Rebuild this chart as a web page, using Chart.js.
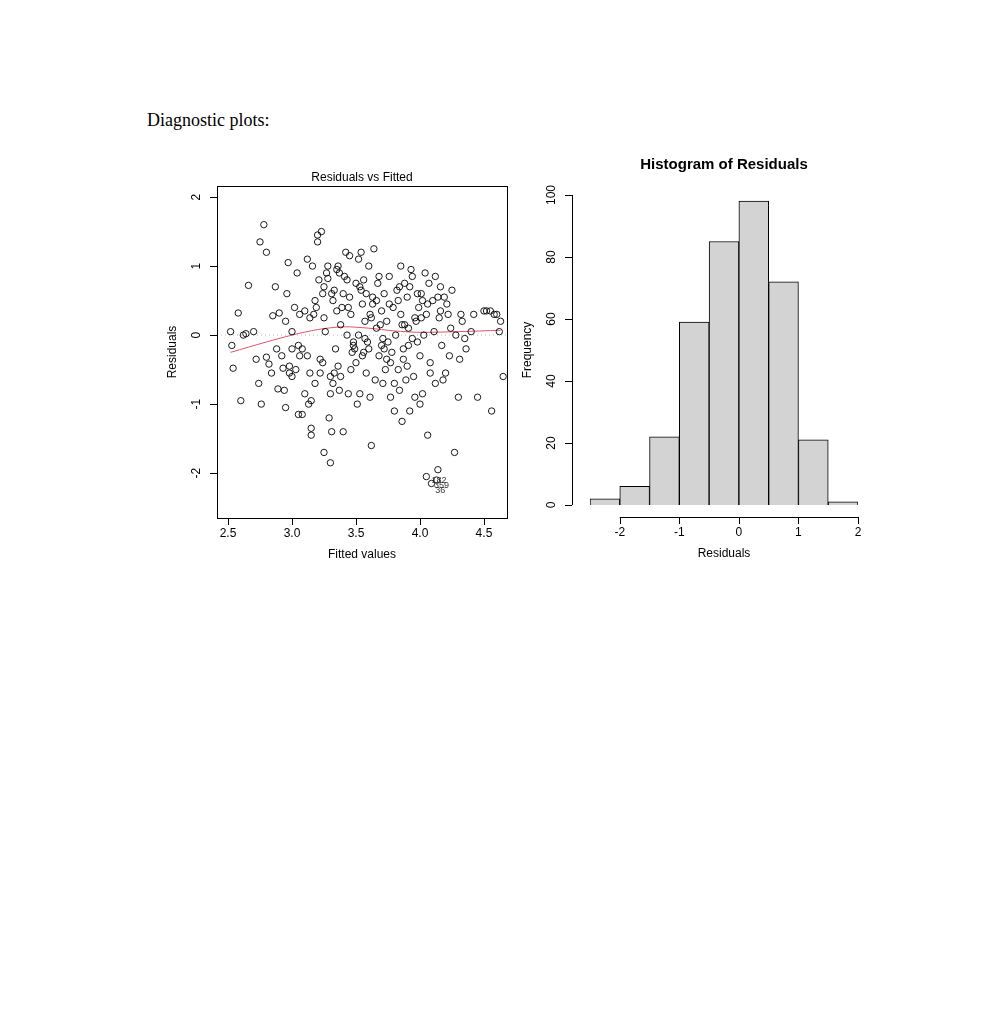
<!DOCTYPE html>
<html>
<head>
<meta charset="utf-8">
<script src="https://cdn.jsdelivr.net/npm/chart.js@4/dist/chart.umd.min.js"></script>
<style>
body { margin: 0; background: #fff; }
#hdr { position: absolute; left: 147px; top: 110px; font: 18px "Liberation Serif", serif; color: #000; }
#c1 { position: absolute; left: 150px; top: 150px; }
#c2 { position: absolute; left: 510px; top: 150px; }
</style>
</head>
<body>
<div id="hdr">Diagnostic plots:</div>
<canvas id="c1" width="380" height="440"></canvas>
<canvas id="c2" width="370" height="440"></canvas>
<script>
// residuals vs fitted
var fitted = [2.52,2.53,2.54,2.58,2.6,2.62,2.64,2.66,2.7,2.72,2.74,2.75,2.76,2.78,2.8,2.8,2.82,2.84,2.85,2.87,2.88,2.89,2.9,2.92,2.93,2.94,2.95,2.95,2.96,2.97,2.98,2.98,3.0,3.0,3.0,3.02,3.03,3.04,3.05,3.05,3.06,3.08,3.08,3.1,3.1,3.12,3.12,3.13,3.14,3.15,3.15,3.15,3.16,3.17,3.18,3.18,3.2,3.2,3.21,3.22,3.22,3.23,3.24,3.25,3.25,3.25,3.26,3.27,3.28,3.29,3.3,3.3,3.3,3.31,3.32,3.32,3.33,3.34,3.35,3.35,3.36,3.37,3.38,3.38,3.4,3.4,3.42,3.43,3.44,3.45,3.45,3.46,3.47,3.48,3.5,3.5,3.51,3.52,3.52,3.53,3.54,3.55,3.55,3.56,3.57,3.58,3.58,3.6,3.6,3.61,3.62,3.62,3.63,3.64,3.65,3.66,3.67,3.68,3.7,3.7,3.71,3.72,3.73,3.74,3.75,3.76,3.77,3.78,3.79,3.8,3.8,3.81,3.82,3.83,3.84,3.85,3.85,3.86,3.87,3.88,3.89,3.9,3.9,3.91,3.92,3.93,3.94,3.95,3.96,3.97,3.98,3.99,4.0,4.0,4.01,4.02,4.03,4.04,4.05,4.05,4.06,4.07,4.08,4.09,4.1,4.11,4.12,4.13,4.14,4.15,4.16,4.17,4.18,4.2,4.21,4.22,4.24,4.25,4.27,4.28,4.3,4.31,4.32,4.33,4.35,4.36,4.4,4.42,4.45,4.5,4.52,4.55,4.56,4.58,4.6,4.62,4.63,4.65,
  3.28,3.33,3.37,3.44,3.48,3.53,3.57,3.63,3.68,3.72,3.76,3.83,3.87,3.92,3.96,4.02,4.08,4.12,4.19,4.23,3.06,3.14,3.19,3.41,3.46,3.59,3.66,3.74,3.88,3.94,
  3.31,3.36,3.43,3.49,3.54,3.61,3.69,3.77,3.84,3.91,3.98,4.06,4.14,3.24,3.39,3.56,3.71,3.86,4.01,4.16];
var resid = [0.05,-0.15,-0.48,0.32,-0.95,0.0,0.02,0.72,0.05,-0.35,-0.7,1.35,-1.0,1.6,1.2,-0.32,-0.42,-0.55,0.28,0.7,-0.2,-0.78,0.32,-0.3,-0.48,-0.8,-1.05,0.2,0.6,1.05,-0.45,-0.55,-0.6,0.05,-0.2,0.4,-0.5,0.9,-1.15,-0.15,0.3,-1.15,-0.2,0.35,-0.85,-0.3,1.1,-1.0,0.25,-1.45,-1.35,-0.95,1.0,0.3,0.5,-0.7,1.45,1.35,0.8,-0.35,-0.55,1.5,0.6,-1.7,0.25,0.7,0.05,0.9,1.0,-1.2,-1.85,-0.6,-0.85,-1.4,-0.7,0.5,-0.55,-0.2,0.95,0.35,1.0,-0.8,-0.6,0.15,-1.4,0.6,1.2,0.0,-0.85,1.15,0.55,0.3,-0.25,-0.1,0.75,-0.4,-1.0,1.1,0.0,-0.85,1.2,0.45,-0.3,0.8,-0.05,0.6,-0.55,1.0,-0.2,-0.9,-1.6,0.25,0.45,1.25,-0.65,0.1,0.75,-0.3,-0.15,0.35,-0.7,0.6,-0.5,0.2,-0.1,0.85,-0.9,-0.25,0.4,-1.1,-0.7,0.0,0.65,-0.5,-0.8,1.0,0.3,-1.25,-0.2,0.75,-0.65,0.55,-0.45,0.1,-1.1,0.95,0.85,-0.6,-0.9,0.2,-0.1,0.4,-1.0,-0.3,0.6,-0.85,0.0,0.9,-2.05,0.3,-1.45,0.75,-0.55,-2.15,0.5,0.05,-0.7,-2.1,-1.95,0.25,0.7,-0.15,-0.65,-0.55,0.45,0.3,0.1,0.65,-1.7,0.0,-0.9,-0.35,0.3,0.2,-0.05,-0.2,0.05,0.3,-0.9,0.35,0.35,0.35,-1.1,0.3,0.3,0.05,0.2,-0.6,
  0.82,0.65,0.9,0.4,-0.15,0.7,0.2,0.55,0.85,-0.2,0.45,0.5,-0.35,0.7,0.25,0.5,-0.4,0.85,0.55,-0.3,-0.3,-0.55,0.4,0.85,-0.5,-0.1,0.5,-0.35,0.15,-0.05,
  0.6,-0.45,0.8,-0.2,0.65,0.3,0.15,-0.4,0.7,-0.15,0.6,0.45,0.55,-0.4,0.4,-0.25,-0.05,0.15,0.25,0.35];
// lowess smoother
var smoothX = [2.52,2.8,3.0,3.2,3.4,3.6,3.8,4.0,4.3,4.63];
var smoothY = [-0.25,-0.1,0.0,0.08,0.12,0.1,0.06,0.04,0.05,0.07];
var xTicks1 = [2.5,3.0,3.5,4.0,4.5];
var yTicks1 = [-2,-1,0,1,2];
var outlierLabels = [[4.09,-2.1,'182'],[4.11,-2.17,'359'],[4.12,-2.25,'36']];

// histogram
var binCenters = [-2.25,-1.75,-1.25,-0.75,-0.25,0.25,0.75,1.25,1.75];
var counts = [2,6,22,59,85,98,72,21,1];
var xTicks2 = [-2,-1,0,1,2];
var yTicks2 = [0,20,40,60,80,100];

var F = '"Liberation Sans", Arial, sans-serif';

function axesPlugin(o) {
  return {
    id: 'axes',
    afterDraw: function (chart) {
      var c = chart.ctx, a = chart.chartArea, xs = chart.scales.x, ys = chart.scales.y;
      c.save();
      c.strokeStyle = '#000'; c.fillStyle = '#000'; c.lineWidth = 1;
      if (o.box) c.strokeRect(a.left + 0.5, a.top + 0.5, a.right - a.left, a.bottom - a.top);
      var xb = a.bottom + o.xoff, yl = a.left - o.yoff;
      var x0 = xs.getPixelForValue(o.xt[0]), x1 = xs.getPixelForValue(o.xt[o.xt.length - 1]);
      var y0 = ys.getPixelForValue(o.yt[0]), y1 = ys.getPixelForValue(o.yt[o.yt.length - 1]);
      c.beginPath();
      if (!o.box) { c.moveTo(x0, xb + 0.5); c.lineTo(x1, xb + 0.5); c.moveTo(yl + 0.5, y0); c.lineTo(yl + 0.5, y1); }
      o.xt.forEach(function (t) { var p = Math.round(xs.getPixelForValue(t)) + 0.5; c.moveTo(p, xb); c.lineTo(p, xb + 7); });
      o.yt.forEach(function (t) { var p = Math.round(ys.getPixelForValue(t)) + 0.5; c.moveTo(yl, p); c.lineTo(yl - 7, p); });
      c.stroke();
      c.font = '12px ' + F; c.textAlign = 'center'; c.textBaseline = 'top';
      o.xt.forEach(function (t) { c.fillText(o.xf(t), xs.getPixelForValue(t), xb + 10); });
      c.fillText(o.xlab, (a.left + a.right) / 2, xb + 31);
      o.yt.forEach(function (t) {
        c.save(); c.translate(yl - 14, ys.getPixelForValue(t)); c.rotate(-Math.PI / 2);
        c.textBaseline = 'bottom'; c.fillText(String(t), 0, 0); c.restore();
      });
      c.save(); c.translate(yl - 38, (a.top + a.bottom) / 2); c.rotate(-Math.PI / 2);
      c.textBaseline = 'bottom'; c.fillText(o.ylab, 0, 0); c.restore();
      c.font = o.tfont; c.textBaseline = 'alphabetic';
      c.fillText(o.title, (a.left + a.right) / 2, o.ty);
      if (o.extra) o.extra(chart, c);
      c.restore();
    }
  };
}

var pts = fitted.map(function (f, i) { return { x: f, y: resid[i] }; });
var smooth = smoothX.map(function (f, i) { return { x: f, y: smoothY[i] }; });

new Chart(document.getElementById('c1'), {
  type: 'scatter',
  data: {
    datasets: [
      { data: pts, pointRadius: 3.2, pointBorderColor: '#000', pointBackgroundColor: 'rgba(0,0,0,0)', pointBorderWidth: 0.9 },
      { data: [{ x: 2.414, y: 0 }, { x: 4.68, y: 0 }], showLine: true, borderColor: '#bbb', borderWidth: 1, borderDash: [1, 3], pointRadius: 0 },
      { data: smooth, showLine: true, borderColor: '#df536b', borderWidth: 1, pointRadius: 0, tension: 0.3 }
    ]
  },
  options: {
    responsive: false, animation: false,
    layout: { padding: { left: 67, top: 36, right: 23, bottom: 72 } },
    plugins: { legend: { display: false }, tooltip: { enabled: false } },
    scales: {
      x: { type: 'linear', display: false, min: 2.414, max: 4.68 },
      y: { type: 'linear', display: false, min: -2.65, max: 2.16 }
    }
  },
  plugins: [axesPlugin({
    box: true, xoff: 0, yoff: 0, xt: xTicks1, yt: yTicks1,
    xf: function (t) { return t.toFixed(1); },
    xlab: 'Fitted values', ylab: 'Residuals', title: 'Residuals vs Fitted',
    tfont: '12px ' + F, ty: 31,
    extra: function (chart, c) {
      c.font = '9px ' + F; c.fillStyle = '#333'; c.textAlign = 'left';
      outlierLabels.forEach(function (l) {
        c.fillText(l[2], chart.scales.x.getPixelForValue(l[0]), chart.scales.y.getPixelForValue(l[1]) + 3);
      });
    }
  })]
});

new Chart(document.getElementById('c2'), {
  type: 'bar',
  data: {
    datasets: [{
      data: binCenters.map(function (b, i) { return { x: b, y: counts[i] }; }),
      backgroundColor: '#d3d3d3', borderColor: '#000', borderWidth: 1,
      barPercentage: 1, categoryPercentage: 1
    }]
  },
  options: {
    responsive: false, animation: false,
    layout: { padding: { left: 80, top: 45, right: 22, bottom: 85 } },
    plugins: { legend: { display: false }, tooltip: { enabled: false } },
    scales: {
      x: { type: 'linear', display: false, min: -2.5, max: 2, offset: false },
      y: { type: 'linear', display: false, min: 0, max: 100 }
    }
  },
  plugins: [axesPlugin({
    box: false, xoff: 12, yoff: 18, xt: xTicks2, yt: yTicks2,
    xf: function (t) { return String(t); },
    xlab: 'Residuals', ylab: 'Frequency', title: 'Histogram of Residuals',
    tfont: 'bold 15px ' + F, ty: 19
  })]
});
</script>
</body>
</html>
